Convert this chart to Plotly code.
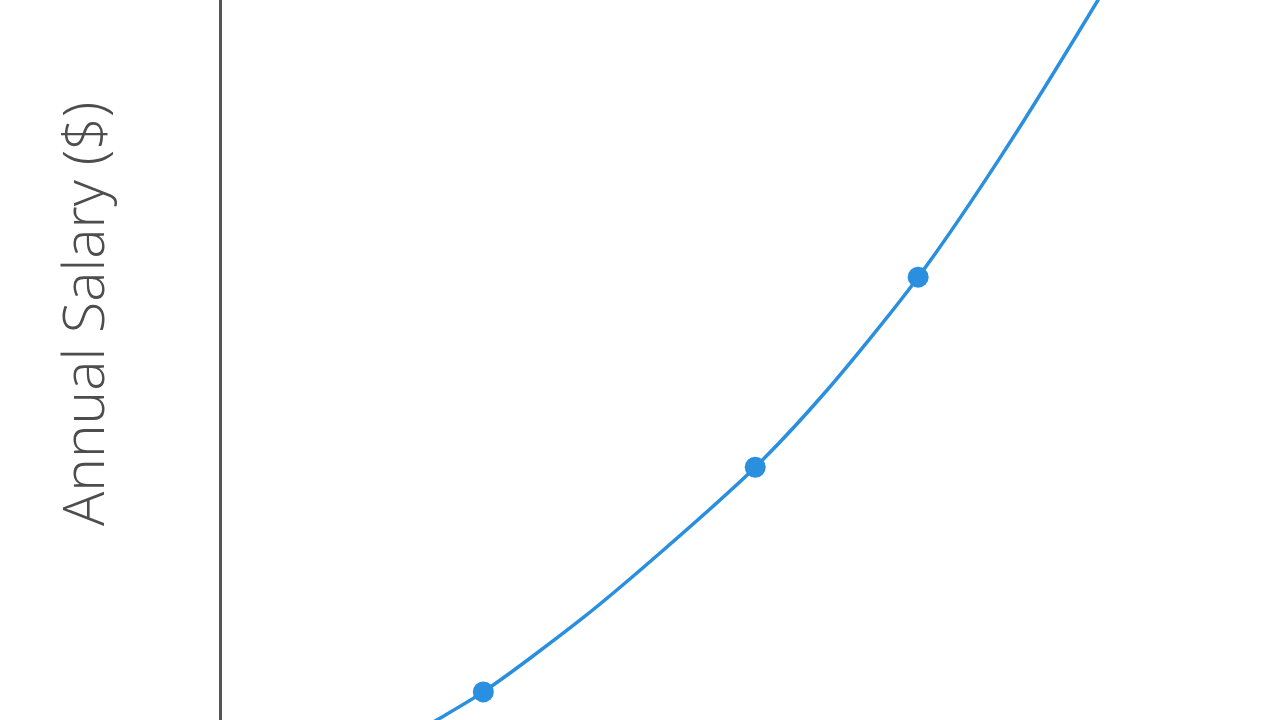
import plotly.graph_objects as go


# smooth salary curve (x in arbitrary units, y as % of visible range)
curve_x = [1.6, 2.03, 2.47, 3.41, 4.14, 5.04, 5.72, 6.58, 7.35, 8.28, 8.7]
curve_y = [-3.6, 0.0, 3.9, 14.17, 23.19, 35.1, 45.83, 61.5, 78.0, 100.0, 110.5]

# the highlighted points on the curve
point_x = [2.47, 5.04, 6.58]
point_y = [3.9, 35.1, 61.5]

y_label = "Annual Salary ($)"
blue = "#2a8fde"

fig = go.Figure()

fig.add_trace(go.Scatter(
    x=curve_x, y=curve_y,
    mode="lines",
    line=dict(color=blue, width=3.5, shape="spline", smoothing=0.8),
    hoverinfo="skip",
))

fig.add_trace(go.Scatter(
    x=point_x, y=point_y,
    mode="markers",
    marker=dict(color=blue, size=21),
))

fig.add_annotation(
    text=y_label,
    xref="paper", yref="paper",
    x=-0.1323, y=0.564,
    textangle=-90,
    showarrow=False,
    xanchor="center", yanchor="middle",
    font=dict(family="Open Sans", size=57, color="#4d4d4d", weight=300),
)

fig.update_layout(
    width=1280, height=720,
    margin=dict(l=222, r=0, t=0, b=0),
    paper_bgcolor="white",
    plot_bgcolor="white",
    showlegend=False,
    xaxis=dict(range=[0, 10], showgrid=False, zeroline=False, showticklabels=False,
               ticks="", showline=False),
    yaxis=dict(range=[0, 100], showgrid=False, zeroline=False, showticklabels=False,
               ticks="", showline=True, linecolor="#555555", linewidth=3),
)

# drop the browser's default page margin so the chart sits at 0,0
fig.write_html("out.html", config={"displayModeBar": False},
               post_script="document.body.style.margin='0';")
